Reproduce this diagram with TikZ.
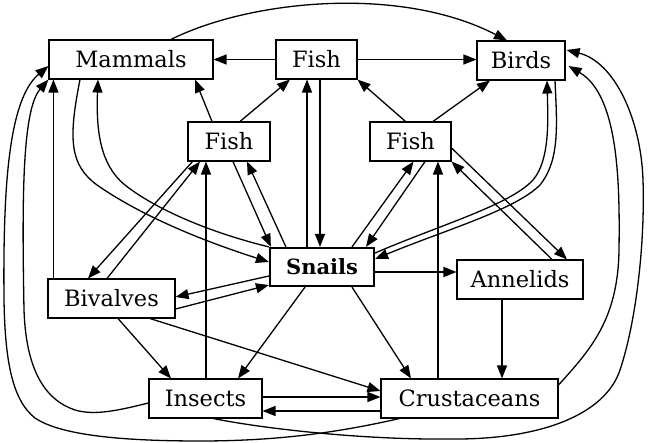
\documentclass[tikz,border=0pt]{standalone}
\usepackage{fontspec}
\setmainfont{DejaVu Serif}
\usetikzlibrary{arrows.meta,calc}
\begin{document}
\begin{tikzpicture}[x=1pt,y=-1pt,
  box/.style={draw, line width=1.1pt, inner sep=0pt, minimum height=39pt,
    font=\fontsize{22.5}{26}\selectfont},
  arr/.style={line width=1.3pt, -{Triangle[length=13pt,width=10pt]}},
  ln/.style={line width=1.3pt}]
\useasboundingbox (0,0) rectangle (650,443);
% nodes
\node[box, minimum width=164pt] (mam) at (131,59.5) {Mammals};
\node[box, minimum width=81pt]  (fT)  at (316.5,59.5) {Fish};
\node[box, minimum width=88pt]  (bir) at (521,60.5) {Birds};
\node[box, minimum width=82pt]  (fL)  at (229,141.5) {Fish};
\node[box, minimum width=81pt]  (fR)  at (410.5,141.5) {Fish};
\node[box, minimum width=104pt, minimum height=38pt, line width=2.2pt,
      font=\fontsize{21}{26}\selectfont\bfseries] (sn) at (322,267) {Snails};
\node[box, minimum width=127pt] (biv) at (111.5,298.5) {Bivalves};
\node[box, minimum width=126pt] (ann) at (520,279.5) {Annelids};
\node[box, minimum width=113pt] (ins) at (205.5,398.5) {Insects};
\node[box, minimum width=177pt] (cru) at (469.5,398.5) {Crustaceans};
% straight connectors
\draw[arr] (fT.west) -- (mam.east);
\draw[arr] (fT.east) -- (fT.east -| bir.west);
\draw[arr] ($(fL.north)+(-17,0)$) -- ($(mam.south)+(64,0)$);
\draw[arr] ($(fL.north)+(11,0)$) -- ($(fT.south)+(-26.5,0)$);
\draw[arr] ($(fR.north)+(-5,0)$) -- (fT.south east);
\draw[arr] ($(fR.north)+(22.5,0)$) -- ($(bir.south)+(-31,0)$);
\draw[arr] ($(sn.north)+(-15,0)$) -- ($(fT.south)+(-9.5,0)$);
\draw[arr] ($(fT.south)+(3.5,0)$) -- ($(sn.north)+(-2,0)$);
\draw[arr] ($(fL.south)+(4,0)$) -- ($(sn.north west)+(2,0)$);
\draw[arr] ($(sn.north west)+(17,0)$) -- ($(fL.south)+(18,0)$);
\draw[arr] ($(sn.north)+(30,0)$) -- ($(fR.south)+(3,0)$);
\draw[arr] ($(fR.south)+(14.5,0)$) -- ($(sn.north)+(44,0)$);
\draw[arr] ($(fR.east)+(0,6.5)$) -- ($(ann.north)+(47,0)$);
\draw[arr] ($(ann.north)+(32,0)$) -- (fR.south east);
\draw[arr] ($(cru.north)+(-31.5,0)$) -- ($(fR.south)+(27.5,0)$);
\draw[arr] ($(ann.south)+(-18,0)$) -- ($(cru.north)+(32.5,0)$);
\draw[arr] ($(sn.east)+(0,5)$) -- ($(ann.west)+(0,-7.5)$);
\draw[arr] ($(sn.west)+(0,9)$) -- ($(biv.east)+(0,-1.5)$);
\draw[arr] ($(biv.east)+(0,10.5)$) -- ($(sn.west)+(0,18)$);
\draw[arr] ($(fL.south west)+(5,0)$) -- ($(biv.north)+(-23.5,0)$);
\draw[arr] ($(biv.north)+(-4.5,0)$) -- ($(fL.south)+(-29,0)$);
\draw[arr] ($(ins.north)+(0.5,0)$) -- ($(fL.south)+(-23,0)$);
\draw[arr] ($(biv.north west)+(6,0)$) -- ($(mam.south west)+(5,0)$);
\draw[arr] ($(sn.south)+(-17,0)$) -- ($(ins.north)+(32.5,0)$);
\draw[arr] ($(sn.south)+(30,0)$) -- ($(cru.north)+(-58.5,0)$);
\draw[arr] ($(biv.south)+(6.5,0)$) -- ($(ins.north)+(-34.5,0)$);
\draw[arr] ($(biv.south)+(38.5,0)$) -- ($(cru.west)+(0,-7.5)$);
\draw[arr] ($(ins.east)+(0,-1.5)$) -- ($(cru.west)+(0,-1.5)$);
\draw[arr] ($(cru.west)+(0,12.5)$) -- ($(ins.east)+(0,12.5)$);
% curved connectors
\draw[arr] ($(mam.south)+(-51,0)$) .. controls (68,140) and (70,165) .. (97,185)
   .. controls (140,215) and (200,240) .. ($(sn.west)+(0,-5)$);
\draw[arr] (sn.north west) .. controls (200,230) and (150,205) .. (125,185)
   .. controls (100,165) and (96,130) .. ($(mam.south)+(-33,0)$);
\draw[arr] ($(sn.east)+(0,-14)$) .. controls (440,225) and (510,205) .. (533,180)
   .. controls (550,160) and (548,120) .. ($(bir.south)+(26,0)$);
\draw[arr] ($(bir.south)+(34,0)$) .. controls (557,125) and (560,160) .. (540,185)
   .. controls (515,210) and (445,230) .. ($(sn.east)+(0,-8)$);
\draw[arr] ($(mam.north)+(40,0)$) .. controls (250,0) and (400,-15) .. ($(bir.north)+(-14,0)$);
\draw[arr] ($(cru.south west)+(19,0)$) .. controls (340,432) and (280,441) .. (200,441)
   .. controls (120,441) and (60,435) .. (35,418)
   .. controls (12,400) and (5,360) .. (4,300)
   .. controls (3,190) and (8,100) .. ($(mam.west)+(0,6.5)$);
\draw[arr] ($(ins.west)+(0,4.5)$) .. controls (120,410) and (95,416) .. (75,410)
   .. controls (45,400) and (26,370) .. (24,310)
   .. controls (22,200) and (22,110) .. (mam.south west);
\draw[arr] ($(ins.south)+(8,0)$) .. controls (260,428) and (360,440) .. (450,439)
   .. controls (540,440) and (605,415) .. (620,370)
   .. controls (637,319) and (645,240) .. (643,180)
   .. controls (641,120) and (615,62) .. ($(bir.east)+(1,-10.5)$);
\draw[arr] ($(cru.east)+(0,-13.5)$) .. controls (590,350) and (618,320) .. (619,250)
   .. controls (620,180) and (618,95) .. ($(bir.east)+(3,5.5)$);
\end{tikzpicture}
\end{document}
